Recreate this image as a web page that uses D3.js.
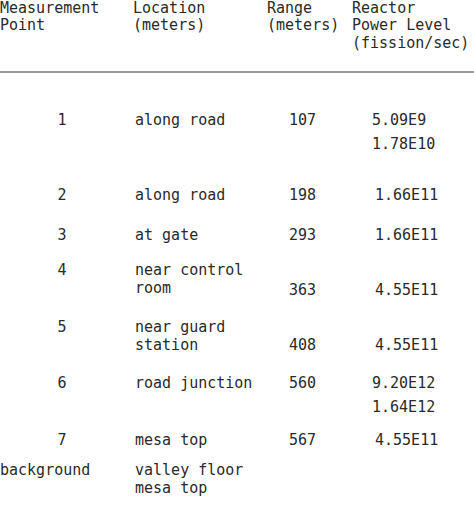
<!DOCTYPE html><html><head><script src="https://cdn.jsdelivr.net/npm/d3@7"></script>
<style>body{margin:0;background:#fff}</style></head><body><svg id="c" width="474" height="505"></svg>
<script>
const points=["1","2","3","4","5","6","7","background"];
const locations=[["along road"],["along road"],["at gate"],["near control","room"],["near guard","station"],["road junction"],["mesa top"],["valley floor","mesa top"]];
const ranges=["107","198","293","363","408","560","567",""];
const powers=[["5.09E9","1.78E10"],["1.66E11"],["1.66E11"],["4.55E11"],["4.55E11"],["9.20E12","1.64E12"],["4.55E11"],[]];
const rowY=[120,195,235,270,327,383,440,470];
const valY=[120,195,235,290,345,383,440,470];
const svg=d3.select("#c");
const g=svg.append("g").attr("font-family","DejaVu Sans Mono").attr("font-size",15).attr("fill","#2a2a2a");
const T=(x,y,s,a)=>g.append("text").attr("x",x).attr("y",y).attr("text-anchor",a||"start").text(s);
[["Measurement","Point"]].forEach(()=>{});
T(0,13,"Measurement");T(0,30,"Point");
T(133,13,"Location");T(133,30,"(meters)");
T(267,13,"Range");T(267,30,"(meters)");
T(352,13,"Reactor");T(352,30,"Power Level");T(352,48,"(fission/sec)");
svg.append("line").attr("x1",0).attr("x2",474).attr("y1",72).attr("y2",72).attr("stroke","#333").attr("stroke-width",1.2);
points.forEach((p,i)=>{
 T(p==="background"?0:62,rowY[i]+5,p,p==="background"?"start":"middle");
 locations[i].forEach((l,j)=>T(135,rowY[i]+5+j*18,l));
 if(ranges[i])T(316,valY[i]+5,ranges[i],"end");
 powers[i].forEach((v,j)=>T(i==0||i==5?372:375,valY[i]+5+j*24,v));
});
</script></body></html>
